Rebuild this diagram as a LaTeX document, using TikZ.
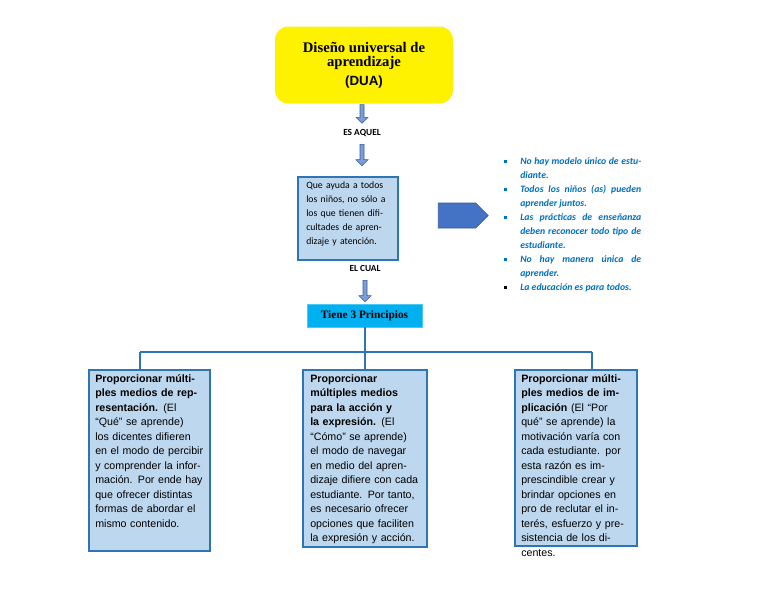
\documentclass[tikz,border=0pt]{standalone}
\usepackage{fontspec}
\setmainfont{Liberation Sans}
\newfontfamily\calib{Carlito}
\newfontfamily\tnr{Liberation Serif}
\usetikzlibrary{shapes.arrows}
\definecolor{bbord}{HTML}{2E75B6}
\definecolor{bfill}{HTML}{BDD7EE}
\definecolor{barrow}{HTML}{4472C4}
\definecolor{cyanb}{HTML}{00B0F0}
\definecolor{bultxt}{HTML}{0070C0}
\newcommand{\bulsq}[1]{\makebox[0pt][r]{\textcolor{#1}{\rule[1pt]{2.5pt}{2.5pt}}\hspace{10pt}}}
\begin{document}
\begin{tikzpicture}[x=0.75pt,y=-0.75pt,
  pbox/.style={draw=bbord,line width=1.6pt,fill=bfill,anchor=north west,inner sep=0pt},
  ptext/.style={anchor=north west,align=left,text width=#1,font=\fontsize{8}{10.9}\selectfont,inner sep=0pt},
  lab/.style={font=\calib\bfseries\fontsize{7}{8}\selectfont},
  darr/.style={draw=barrow!80!black,fill=barrow!70,single arrow,minimum height=#1,minimum width=9pt,single arrow head extend=2pt,inner sep=0.8pt,shape border rotate=270},
  conn/.style={draw=bbord,line width=2pt}]
\useasboundingbox (0,0) rectangle (768,594);
\fill[white] (0,0) rectangle (768,594);
% title
\node[fill=yellow,rounded corners=10pt,minimum width=178*0.75pt,minimum height=77*0.75pt,align=center] (title) at (364,65)
 {\tnr\bfseries\fontsize{11}{14}\selectfont Diseño universal de\\[-1pt]\tnr\bfseries\fontsize{11}{14}\selectfont aprendizaje\\[2pt]\bfseries\fontsize{10}{12}\selectfont (DUA)};
\node[darr=14pt] (a1) at (362,113) {};
\node[lab] (esaquel) at (362,133) {ES AQUEL};
\node[darr=16pt] (a2) at (362,154) {};
% que ayuda box
\draw[pbox] (298,177) rectangle (398,260);
\node[anchor=north west,text width=88*0.75pt,align=left,inner sep=0pt,font=\calib\fontsize{7.3}{10.6}\selectfont] (que) at (306,181)
 {Que ayuda a todos los niños, no sólo a los que tienen dificultades de aprendizaje y atención.};
\node[single arrow,draw=barrow!80!black,fill=barrow,minimum height=50*0.75pt,minimum width=25*0.75pt,single arrow head extend=0pt,inner sep=2pt] (big) at (457,215.5) {};
% bullets
\begin{scope}
\clip (495,150) rectangle (650,308);
\node[anchor=north west,text width=121*0.75pt,inner sep=0pt,align=justify,font=\calib\bfseries\itshape\fontsize{7.3}{10.5}\selectfont,text=bultxt] (bul) at (520,157.5)
{\bulsq{bultxt}No hay modelo único de estudiante.\par
\bulsq{bultxt}Todos los niños (as) pueden aprender juntos.\par
\bulsq{bultxt}Las prácticas de enseñanza deben reconocer todo tipo de estudiante.\par
\bulsq{bultxt}No hay manera única de aprender.\par
\bulsq{black}La educación es para todos.};
\end{scope}
\node[lab] (elcual) at (365,268) {EL CUAL};
\node[darr=16pt] (a3) at (365,290) {};
\node[fill=cyanb,draw=cyanb!70!white,minimum width=115*0.75pt,minimum height=23*0.75pt,font=\tnr\bfseries\fontsize{8.5}{10}\selectfont] (tiene) at (364.5,315.5) {Tiene 3 Principios};
% bracket
\coordinate (j) at (365,352);
\coordinate (jl) at (140,352);
\coordinate (jr) at (592,352);
\draw[conn] (tiene.south -| j) -- (j);
\draw[conn] (jl) -- (jr);
\draw[conn] (jl) -- (140,370);
\draw[conn] (j) -- (365,370);
\draw[conn] (jr) -- (592,370);
% boxes
\draw[pbox] (89,370) rectangle (210,551);
\node[ptext=108*0.75pt] (b1) at (95,374)
{\textbf{Proporcionar múltiples medios de representación.} (El “Qué” se aprende) los dicentes difieren en el modo de percibir y comprender la información. Por ende hay que ofrecer distintas formas de abordar el mismo contenido.};
\draw[pbox] (303,370) rectangle (427,547);
\node[ptext=108*0.75pt] (b2) at (310,374)
{\textbf{Proporcionar\\ múltiples medios\\ para la acción y la expresión.} (El “Cómo” se aprende) el modo de navegar en medio del aprendizaje difiere con cada estudiante. Por tanto, es necesario ofrecer opciones que faciliten la expresión y acción.};
\draw[pbox] (515,370) rectangle (637,546);
\node[ptext=112*0.75pt] (b3) at (521,374)
{\textbf{Proporcionar múltiples medios de implicación} (El “Por qué” se aprende) la motivación varía con cada estudiante. por esta razón es imprescindible crear y brindar opciones en pro de reclutar el interés, esfuerzo y presistencia de los dicentes.};
\end{tikzpicture}
\end{document}
